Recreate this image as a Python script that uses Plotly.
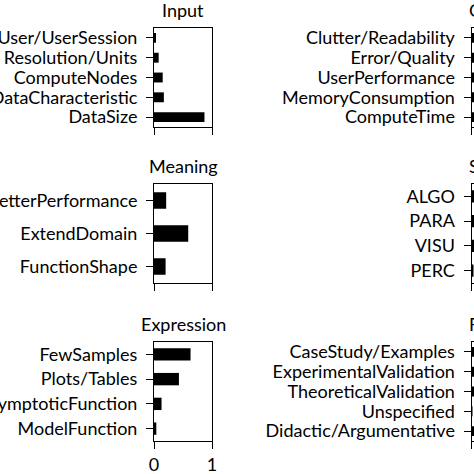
import plotly.graph_objects as go

# panel data (bottom -> top order, as plotted)
input_labels = ['DataSize', 'DataCharacteristic', 'ComputeNodes', 'Resolution/Units', 'User/UserSession']
input_vals = [0.87, 0.17, 0.15, 0.08, 0.03]

meaning_labels = ['FunctionShape', 'ExtendDomain', 'BetterPerformance']
meaning_vals = [0.20, 0.59, 0.21]

expression_labels = ['ModelFunction', 'AsymptoticFunction', 'Plots/Tables', 'FewSamples']
expression_vals = [0.04, 0.13, 0.43, 0.63]

output_labels = ['ComputeTime', 'MemoryConsumption', 'UserPerformance', 'Error/Quality', 'Clutter/Readability']
output_vals = [0.80, 0.30, 0.25, 0.35, 0.20]

subfield_labels = ['PERC', 'VISU', 'PARA', 'ALGO']
subfield_vals = [0.02, 0.40, 0.30, 0.60]

form_labels = ['Didactic/Argumentative', 'Unspecified', 'TheoreticalValidation', 'ExperimentalValidation', 'CaseStudy/Examples']
form_vals = [0.10, 0.01, 0.20, 0.40, 0.70]

W = H = 474
FONT = 'Lato'
FS = 18

def px_x(p):
    return p / W

def px_y(p):
    return 1 - p / H

# row extents in pixels (top, bottom)
rows = [(28, 127), (184, 283), (342, 441)]
left_x = (154, 212)
right_x = (471.5, 474)
right_max = (right_x[1] - right_x[0]) / (left_x[1] - left_x[0])

panels = [
    ('Input', input_labels, input_vals, 0, 'left'),
    ('Meaning', meaning_labels, meaning_vals, 1, 'left'),
    ('Expression', expression_labels, expression_vals, 2, 'left'),
    ('Output', output_labels, output_vals, 0, 'right'),
    ('Subfield', subfield_labels, subfield_vals, 1, 'right'),
    ('Foundation', form_labels, form_vals, 2, 'right'),
]

fig = go.Figure()
layout = {}
annotations = []

for i, (title, labels, vals, row, col) in enumerate(panels):
    n = i + 1
    xa = 'x' if n == 1 else f'x{n}'
    ya = 'y' if n == 1 else f'y{n}'
    fig.add_trace(go.Bar(x=vals, y=labels, orientation='h', width=0.5,
                         marker=dict(color='black', line=dict(width=0)),
                         xaxis=xa, yaxis=ya, showlegend=False))
    top, bot = rows[row]
    xs = left_x if col == 'left' else right_x
    xrange = [0, 1] if col == 'left' else [0, right_max]
    layout[f'xaxis{"" if n == 1 else n}'] = dict(
        domain=[px_x(xs[0]), px_x(xs[1])], anchor=ya, range=xrange,
        tickmode='array', tickvals=[0, 1], ticktext=['0', '1'],
        ticks='outside', ticklen=7, tickcolor='black',
        showticklabels=(row == 2), showgrid=False,
        zeroline=False, showline=True, linecolor='black', linewidth=1,
        mirror=True, automargin=False,
        tickfont=dict(family=FONT, size=FS, color='black'))
    layout[f'yaxis{"" if n == 1 else n}'] = dict(
        domain=[px_y(bot), px_y(top)], anchor=xa, type='category',
        categoryorder='array', categoryarray=labels,
        tickmode='array', tickvals=labels, ticktext=labels,
        range=[-0.5, len(labels) - 0.5],
        ticks='outside', ticklen=7, tickcolor='black', showgrid=False,
        zeroline=False, showline=True, linecolor='black', linewidth=1,
        mirror=(col == 'left'), automargin=False, ticklabelstandoff=5,
        tickfont=dict(family=FONT, size=FS, color='black'))
    if col == 'left':
        annotations.append(dict(text=title, x=px_x((xs[0] + xs[1]) / 2), y=px_y(top - 18),
                                xref='paper', yref='paper', xanchor='center', yanchor='middle',
                                showarrow=False, font=dict(family=FONT, size=FS, color='black')))
    else:
        annotations.append(dict(text=title, x=px_x(467), y=px_y(top - 18),
                                xref='paper', yref='paper', xanchor='left', yanchor='middle',
                                showarrow=False, font=dict(family=FONT, size=FS, color='black')))

fig.update_layout(**layout)
fig.update_layout(
    template='none',
    width=W, height=H,
    margin=dict(l=0, r=0, t=0, b=0),
    paper_bgcolor='white', plot_bgcolor='white',
    annotations=annotations,
    bargap=0.5,
)

# page has a default 8px body margin; drop it so the figure sits at the corner
fig.write_html('out.html', config={'displayModeBar': False},
               post_script="document.body.style.margin='0';document.body.style.overflow='hidden';")
